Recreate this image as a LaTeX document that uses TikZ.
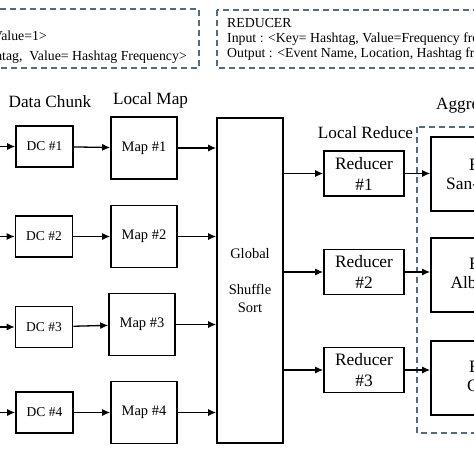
\documentclass[tikz,border=0pt]{standalone}
\usepackage{fontspec}
\setmainfont{Liberation Serif}
\usepackage{tikz}
\usetikzlibrary{positioning}
\usetikzlibrary{arrows.meta}
\usetikzlibrary{calc}
\definecolor{notegray}{RGB}{84,106,132}

\begin{document}
\begin{tikzpicture}[x=1pt,y=-1pt,
  blk/.style={draw,line width=1.6pt,inner sep=0pt,align=center},
  dcbox/.style={blk,minimum width=57pt,minimum height=41pt,font=\fontsize{13.5}{16}\selectfont},
  mapbox/.style={blk,minimum width=66pt,minimum height=62pt,font=\fontsize{14.5}{17}\selectfont},
  redbox/.style={blk,minimum width=80pt,minimum height=45pt,font=\fontsize{17.4}{21}\selectfont},
  aggbox/.style={blk,minimum width=130pt,minimum height=74pt,font=\fontsize{17.4}{19}\selectfont},
  lbl/.style={inner sep=0pt,font=\fontsize{17.2}{20}\selectfont},
  note/.style={inner sep=0pt,font=\fontsize{13.8}{16}\selectfont},
  notebox/.style={draw=notegray,line width=1.3pt,dash pattern=on 6pt off 4pt},
  arr/.style={-{Latex[length=8pt,width=7pt]},line width=1.3pt}]

\useasboundingbox (0,0) rectangle (474,474);
\clip (0,0) rectangle (474,474);

% notes on top
\draw[notebox] (-260,9) rectangle (199,68);
\node[note,anchor=east] (mapin) at (47,37) {Input : <Key= Hashtag, Value=1>};
\node[note,anchor=east] (mapout) at (187,57) {Output : <Key= Hashtag,\ \ Value= Hashtag Frequency>};

\draw[notebox] (217,10) rectangle (620,68);
\node[note,anchor=west] (redhead) at (227,23) {REDUCER};
\node[note,anchor=west] (redin) at (227,39) {Input : <Key= Hashtag, Value=Frequency from Mapper>};
\node[note,anchor=west] (redout) at (227,54) {Output : <Event Name, Location, Hashtag frequency>};

% column labels
\node[lbl] (chunklbl) at (50,102) {Data Chunk};
\node[lbl] (maplbl) at (150.5,100) {Local Map};
\node[lbl] (redlbl) at (365.5,133) {Local Reduce};
\node[lbl,anchor=west] (agglbl) at (436,106) {Aggregator};

% data chunks
\node[dcbox] (dc1) at (44.5,146.5) {DC \#1};
\node[dcbox] (dc2) at (44,236.5) {DC \#2};
\node[dcbox] (dc3) at (44,327) {DC \#3};
\node[dcbox] (dc4) at (44.5,412.5) {DC \#4};

% local maps
\node[mapbox] (map1) at (144,148) {Map \#1};
\node[mapbox] (map2) at (144,236.5) {Map \#2};
\node[mapbox] (map3) at (142,324.5) {Map \#3};
\node[mapbox] (map4) at (144,412.5) {Map \#4};

\node[blk,minimum width=66pt,minimum height=325pt,font=\fontsize{14.5}{18}\selectfont]
  (glob) at (250,280.5) {Global\\[18pt]Shuffle\\Sort};

% reducers
\node[redbox] (red1) at (364,173.5) {Reducer\\\#1};
\node[redbox] (red2) at (364,272) {Reducer\\\#2};
\node[redbox] (red3) at (364,370) {Reducer\\\#3};

% aggregation
\draw[notebox] (417,127) rectangle (640,433);
\node[aggbox] (agg1) at (496,174) {Event 1\\San-Francisco};
\node[aggbox] (agg2) at (496,275) {Event 2\\Albuquerque};
\node[aggbox] (agg3) at (496,378) {Event 3\\Chicago};

\coordinate (in1) at ($(dc1.west)+(-30,0)$);
\coordinate (in2) at ($(dc2.west)+(-30,0)$);
\coordinate (in3) at ($(dc3.west)+(-30,0)$);
\coordinate (in4) at ($(dc4.west)+(-30,0)$);

\draw[arr] (in1) -- (dc1);
\draw[arr] (in2) -- (dc2);
\draw[arr] (in3) -- (dc3);
\draw[arr] (in4) -- (dc4);

\draw[arr] (dc1) -- (map1);
\draw[arr] (dc2) -- (map2);
\draw[arr] (dc3) -- (map3);
\draw[arr] (dc4) -- (map4);

\draw[arr] (map1.east) -- (map1.east -| glob.west);
\draw[arr] (map2.east) -- (map2.east -| glob.west);
\draw[arr] (map3.east) -- (map3.east -| glob.west);
\draw[arr] (map4.east) -- (map4.east -| glob.west);

\draw[arr] (red1.west -| glob.east) -- (red1.west);
\draw[arr] (red2.west -| glob.east) -- (red2.west);
\draw[arr] (red3.west -| glob.east) -- (red3.west);

\draw[arr] (red1.east) -- (red1.east -| agg1.west);
\draw[arr] (red2.east) -- (red2.east -| agg2.west);
\draw[arr] (red3.east) -- (red3.east -| agg3.west);
\end{tikzpicture}
\end{document}
